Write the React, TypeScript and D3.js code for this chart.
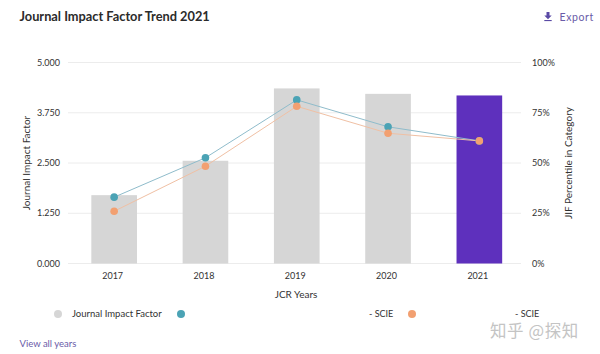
import React from "react";
import * as d3 from "d3";

const years = ["2017", "2018", "2019", "2020", "2021"];
const jif = [1.7, 2.556, 4.355, 4.22, 4.18];
const tealPct = [33, 52.6, 81.4, 68, 61];
const orangePct = [26, 48.4, 78.2, 64.8, 61];
const leftTicks = [0, 1.25, 2.5, 3.75, 5];
const rightTicks = [0, 25, 50, 75, 100];

const FONT = "Lato, 'Open Sans', sans-serif";
const TEAL = "#4ba3b5";
const ORANGE = "#f2a071";
const TEAL_LINE = "#8fbccb";
const ORANGE_LINE = "#f0c0a4";
const GRAY = "#d6d6d6";
const PURPLE = "#5e30bd";
const TEXT = "#333333";
const LINK = "#6a5ba8";

export default function App() {
  const x = d3.scaleBand<string>().domain(years).range([68.5, 525]).paddingInner(0.5).paddingOuter(0.25);
  const yL = d3.scaleLinear().domain([0, 5]).range([263.5, 62.5]);
  const yR = d3.scaleLinear().domain([0, 100]).range([263.5, 62.5]);
  const cx = (y: string) => (x(y) as number) + x.bandwidth() / 2;
  const line = d3
    .line<number>()
    .x((_, i) => cx(years[i]))
    .y((d) => yR(d));

  return (
    <svg
      width={600}
      height={354}
      style={{ position: "absolute", left: 0, top: 0, background: "#fff", fontFamily: FONT }}
    >
      <text x={19.5} y={21} fontSize={12.8} fontWeight={700} fill="#2b2b2b">
        Journal Impact Factor Trend 2021
      </text>
      <g transform="translate(544,12)" fill="#5a4aa5">
        <path d="M2.5 0h3v3.5h2.2L4 7.2.3 3.5h2.2z" />
        <rect x={0.3} y={8} width={7.4} height={1.1} />
      </g>
      <text x={559.5} y={21} fontSize={10.5} fill={LINK} letterSpacing={0.6}>
        Export
      </text>

      {leftTicks.map((t) => (
        <line key={t} x1={68} x2={521} y1={yL(t)} y2={yL(t)} stroke="#ececec" strokeWidth={1} />
      ))}
      {years.map((y, i) => (
        <rect
          key={y}
          x={x(y)}
          y={yL(jif[i])}
          width={x.bandwidth()}
          height={yL(0) - yL(jif[i])}
          fill={i === years.length - 1 ? PURPLE : GRAY}
        />
      ))}
      <path d={line(tealPct) as string} fill="none" stroke={TEAL_LINE} strokeWidth={1} />
      <path d={line(orangePct) as string} fill="none" stroke={ORANGE_LINE} strokeWidth={1} />
      {tealPct.map((v, i) => (
        <circle key={i} cx={cx(years[i])} cy={yR(v)} r={3.8} fill={TEAL} />
      ))}
      {orangePct.map((v, i) => (
        <circle key={i} cx={cx(years[i])} cy={yR(v)} r={3.8} fill={ORANGE} />
      ))}

      {leftTicks.map((t) => (
        <text key={t} x={60} y={yL(t) + 3} textAnchor="end" fontSize={9} fill={TEXT}>
          {d3.format(".3f")(t)}
        </text>
      ))}
      {rightTicks.map((t) => (
        <text key={t} x={532} y={yR(t) + 3} fontSize={9} fill={TEXT}>
          {t}%
        </text>
      ))}
      {years.map((y) => (
        <text key={y} x={cx(y) - 1.5} y={279} textAnchor="middle" fontSize={9} fill={TEXT}>
          {y}
        </text>
      ))}

      <text x={296} y={298} textAnchor="middle" fontSize={10} fill={TEXT}>
        JCR Years
      </text>
      <text transform="translate(30,163) rotate(-90)" textAnchor="middle" fontSize={10} fill={TEXT}>
        Journal Impact Factor
      </text>
      <text transform="translate(572,163) rotate(-90)" textAnchor="middle" fontSize={10} fill={TEXT}>
        JIF Percentile in Category
      </text>

      <circle cx={58} cy={314} r={4} fill={GRAY} />
      <text x={72} y={317} fontSize={9.5} fill={TEXT}>
        Journal Impact Factor
      </text>
      <circle cx={181} cy={314} r={4} fill={TEAL} />
      <text x={369} y={317} fontSize={9} fill={TEXT}>
        - SCIE
      </text>
      <circle cx={412} cy={314} r={4} fill={ORANGE} />
      <text x={515} y={317} fontSize={9} fill={TEXT}>
        - SCIE
      </text>

      <text x={19.5} y={347} fontSize={9.5} fill={LINK}>
        View all years
      </text>

      <text x={490} y={337} fontSize={16.5} letterSpacing={0.6} fill="#c4c4c4" fontFamily="'Noto Sans CJK SC', sans-serif">
        知乎 @探知
      </text>
    </svg>
  );
}
